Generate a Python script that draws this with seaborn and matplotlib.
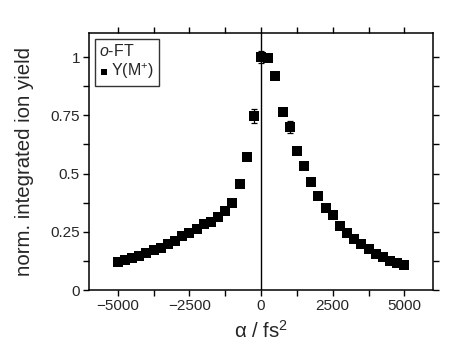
import matplotlib
matplotlib.use("Agg")
import matplotlib.pyplot as plt
import seaborn as sns
import pandas as pd
from matplotlib.ticker import MultipleLocator

# Chirp parameter alpha (fs^2) and normalised integrated ion yield Y(M+)
alpha = [-5000, -4750, -4500, -4250, -4000, -3750, -3500, -3250, -3000, -2750,
         -2500, -2250, -2000, -1750, -1500, -1250, -1000, -750, -500, -250,
         0, 250, 500, 750, 1000, 1250, 1500, 1750, 2000, 2250,
         2500, 2750, 3000, 3250, 3500, 3750, 4000, 4250, 4500, 4750, 5000]
yield_norm = [0.119, 0.129, 0.139, 0.147, 0.159, 0.170, 0.180, 0.196, 0.210, 0.230,
              0.246, 0.262, 0.282, 0.292, 0.312, 0.340, 0.372, 0.455, 0.572, 0.747,
              1.000, 0.994, 0.920, 0.763, 0.700, 0.597, 0.533, 0.465, 0.405, 0.351,
              0.321, 0.275, 0.245, 0.220, 0.196, 0.175, 0.155, 0.140, 0.126, 0.115, 0.106]
yield_err = [0.0] * 19 + [0.032, 0.027] + [0.0] * 3 + [0.024] + [0.0] * 16

df = pd.DataFrame({"alpha": alpha, "Y": yield_norm, "err": yield_err})

sns.set_style("ticks")
plt.rcParams["font.family"] = ["Liberation Sans", "DejaVu Sans"]
plt.rcParams["mathtext.fontset"] = "custom"
plt.rcParams["mathtext.rm"] = "Liberation Sans"
plt.rcParams["mathtext.it"] = "Liberation Sans:italic"
plt.rcParams["mathtext.default"] = "regular"

fig = plt.figure(figsize=(4.74, 3.49), dpi=100)
ax = fig.add_axes([0.1878, 0.169, 0.7257, 0.7364])

ax.axvline(0, color="black", lw=1.0, zorder=1)

err_mask = df["err"] > 0
ax.errorbar(df.loc[err_mask, "alpha"], df.loc[err_mask, "Y"], yerr=df.loc[err_mask, "err"],
            fmt="none", ecolor="black", elinewidth=0.9, capsize=2.5, capthick=0.9, zorder=2)

sns.scatterplot(data=df, x="alpha", y="Y", marker="s", s=46, color="black",
                edgecolor="black", linewidth=0, ax=ax, zorder=3, label="Y(M$^{+}$)")

ax.set_xlim(-6000, 6000)
ax.set_ylim(0, 1.103)
ax.xaxis.set_major_locator(MultipleLocator(2500))
ax.xaxis.set_minor_locator(MultipleLocator(1250))
ax.yaxis.set_major_locator(MultipleLocator(0.25))
ax.yaxis.set_minor_locator(MultipleLocator(0.125))
ax.set_yticks([0, 0.25, 0.5, 0.75, 1.0])
ax.set_yticklabels(["0", "0.25", "0.5", "0.75", "1"])

ax.tick_params(which="both", direction="out", length=4.5, width=1.0, color="black",
               top=True, right=True, labeltop=False, labelright=False, labelsize=11, pad=2)

for sp in ax.spines.values():
    sp.set_visible(True)
    sp.set_linewidth(1.1)
    sp.set_color("black")

ax.set_xlabel("α / fs$^{2}$", fontsize=14.7, labelpad=5)
ax.set_ylabel("norm. integrated ion yield", fontsize=14.7, labelpad=12)

leg = ax.legend(title="$\\it{o}$-FT", loc="upper left", frameon=True, fancybox=False,
                edgecolor="black", fontsize=11.5, title_fontsize=11.5, alignment="left",
                handletextpad=0.15, handlelength=0.6, borderpad=0.3, labelspacing=0.15,
                borderaxespad=0.35, markerscale=0.65)
leg.get_frame().set_linewidth(1.0)

fig.savefig("out.png", dpi=100)
